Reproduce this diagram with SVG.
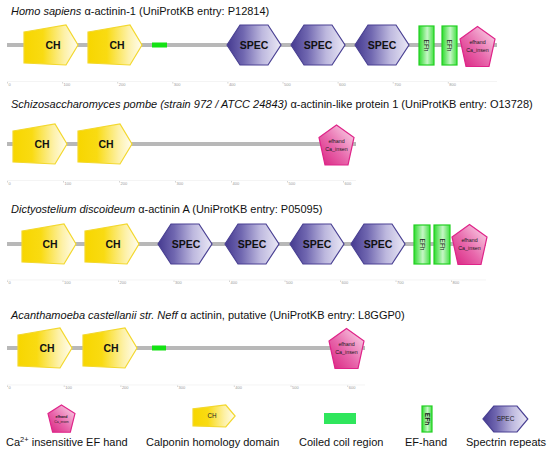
<svg xmlns="http://www.w3.org/2000/svg" xmlns:xlink="http://www.w3.org/1999/xlink" width="550" height="452" viewBox="0 0 550 452">
<style>
.title{font-family:"Liberation Sans",Arial,sans-serif;font-size:11px;fill:#111}
.it{font-style:italic}
.bb{stroke:#b8b8b8;stroke-width:4;fill:none}
.axis{stroke:#ededed;stroke-width:0.6;fill:none}
.tk{stroke:#aaa;stroke-width:0.5}
.tl{font-family:"Liberation Sans",Arial,sans-serif;font-size:4px;fill:#999}
.dl{font-family:"Liberation Sans",Arial,sans-serif;font-weight:bold;font-size:10.5px;fill:#111;text-anchor:middle}
.ef{font-family:"Liberation Sans",Arial,sans-serif;font-size:6.5px;fill:#222;text-anchor:middle}
.ca{font-family:"Liberation Sans",Arial,sans-serif;font-size:5.3px;fill:#1a1a1a;text-anchor:middle}
.coil{fill:#14e214}
.efh{fill:url(#gEF);stroke:#22d022;stroke-width:1.2}
.lg{font-family:"Liberation Sans",Arial,sans-serif;font-size:11px;fill:#111}
</style>
<defs>
<linearGradient id="gCH" x1="0" y1="0" x2="1" y2="0">
<stop offset="0" stop-color="#f7d600"/>
<stop offset="0.35" stop-color="#f9db12"/>
<stop offset="0.75" stop-color="#fdf1a8"/>
<stop offset="1" stop-color="#fffdf0"/>
</linearGradient>
<linearGradient id="gSP" x1="0" y1="0" x2="1" y2="0">
<stop offset="0" stop-color="#453a90"/>
<stop offset="0.3" stop-color="#7067b0"/>
<stop offset="0.65" stop-color="#bdb8de"/>
<stop offset="1" stop-color="#ebe9f6"/>
</linearGradient>
<linearGradient id="gEF" x1="0" y1="0" x2="1" y2="0">
<stop offset="0" stop-color="#2edb2e"/>
<stop offset="0.55" stop-color="#c6f6c6"/>
<stop offset="1" stop-color="#43e043"/>
</linearGradient>
<linearGradient id="gCA" x1="0" y1="1" x2="1" y2="0">
<stop offset="0" stop-color="#d9207f"/>
<stop offset="0.45" stop-color="#e868ac"/>
<stop offset="1" stop-color="#fbe0ee"/>
</linearGradient>
<polygon id="ch" points="0,-13 42,-20 54,0 42,20 0,18" fill="url(#gCH)" stroke="#f3d82e" stroke-width="1.2" vector-effect="non-scaling-stroke"/>
<polygon id="spec" points="0,0 13,-20 41,-20 54,0 41,20 13,20" fill="url(#gSP)" stroke="#4a4193" stroke-width="1.2" vector-effect="non-scaling-stroke"/>
<polygon id="cah" points="17.5,-19.5 35,-7 29,20.5 6,20.5 0,-7" fill="url(#gCA)" stroke="#df2489" stroke-width="1.2" vector-effect="non-scaling-stroke"/>
</defs>

<g id="titles">
<text class="title" x="11" y="15"><tspan class="it">Homo sapiens</tspan> α-actinin-1 (UniProtKB entry: P12814)</text>
<text class="title" x="11" y="108"><tspan class="it">Schizosaccharomyces pombe (strain 972 / ATCC 24843)</tspan> α-actinin-like protein 1 (UniProtKB entry: O13728)</text>
<text class="title" x="11" y="213"><tspan class="it">Dictyostelium discoideum</tspan> α-actinin A (UniProtKB entry: P05095)</text>
<text class="title" x="11" y="319"><tspan class="it">Acanthamoeba castellanii str. Neff</tspan> α actinin, putative (UniProtKB entry: L8GGP0)</text>
</g>

<g id="connectors">
<line class="bb" x1="7" y1="45" x2="497" y2="45"/>
<line class="bb" x1="7" y1="144" x2="356" y2="144"/>
<line class="bb" x1="7" y1="244" x2="486" y2="244"/>
<line class="bb" x1="7" y1="348" x2="365" y2="348"/>
</g>

<g id="axes">
<line class="axis" x1="7" y1="81.5" x2="497" y2="81.5"/>
<g class="tl">
<text x="8.5" y="85.5">0</text><text x="63.6" y="85.5">100</text><text x="118.7" y="85.5">200</text><text x="173.8" y="85.5">300</text><text x="228.9" y="85.5">400</text><text x="284" y="85.5">500</text><text x="339.1" y="85.5">600</text><text x="394.2" y="85.5">700</text><text x="449.3" y="85.5">800</text>
</g>
<g class="tk">
<line x1="7.5" y1="82" x2="7.5" y2="83.5"/><line x1="62.6" y1="82" x2="62.6" y2="83.5"/><line x1="117.7" y1="82" x2="117.7" y2="83.5"/><line x1="172.8" y1="82" x2="172.8" y2="83.5"/><line x1="227.9" y1="82" x2="227.9" y2="83.5"/><line x1="283" y1="82" x2="283" y2="83.5"/><line x1="338.1" y1="82" x2="338.1" y2="83.5"/><line x1="393.2" y1="82" x2="393.2" y2="83.5"/><line x1="448.3" y1="82" x2="448.3" y2="83.5"/>
</g>
<line class="axis" x1="7" y1="180.5" x2="356" y2="180.5"/>
<g class="tl">
<text x="8.5" y="184.5">0</text><text x="64.5" y="184.5">100</text><text x="120.5" y="184.5">200</text><text x="176.5" y="184.5">300</text><text x="232.5" y="184.5">400</text><text x="288.5" y="184.5">500</text><text x="344.5" y="184.5">600</text>
</g>
<g class="tk">
<line x1="7.5" y1="181" x2="7.5" y2="182.5"/><line x1="63.5" y1="181" x2="63.5" y2="182.5"/><line x1="119.5" y1="181" x2="119.5" y2="182.5"/><line x1="175.5" y1="181" x2="175.5" y2="182.5"/><line x1="231.5" y1="181" x2="231.5" y2="182.5"/><line x1="287.5" y1="181" x2="287.5" y2="182.5"/><line x1="343.5" y1="181" x2="343.5" y2="182.5"/>
</g>
<line class="axis" x1="7" y1="280" x2="486" y2="280"/>
<g class="tl">
<text x="8.5" y="284">0</text><text x="64" y="284">100</text><text x="119.5" y="284">200</text><text x="175" y="284">300</text><text x="230.5" y="284">400</text><text x="286" y="284">500</text><text x="341.5" y="284">600</text><text x="397" y="284">700</text><text x="452.5" y="284">800</text>
</g>
<g class="tk">
<line x1="7.5" y1="280.5" x2="7.5" y2="282"/><line x1="63" y1="280.5" x2="63" y2="282"/><line x1="118.5" y1="280.5" x2="118.5" y2="282"/><line x1="174" y1="280.5" x2="174" y2="282"/><line x1="229.5" y1="280.5" x2="229.5" y2="282"/><line x1="285" y1="280.5" x2="285" y2="282"/><line x1="340.5" y1="280.5" x2="340.5" y2="282"/><line x1="396" y1="280.5" x2="396" y2="282"/><line x1="451.5" y1="280.5" x2="451.5" y2="282"/>
</g>
<line class="axis" x1="7" y1="385" x2="365" y2="385"/>
<g class="tl">
<text x="8.5" y="389">0</text><text x="65.2" y="389">100</text><text x="121.9" y="389">200</text><text x="178.6" y="389">300</text><text x="235.3" y="389">400</text><text x="292" y="389">500</text><text x="348.7" y="389">600</text>
</g>
<g class="tk">
<line x1="7.5" y1="385.5" x2="7.5" y2="387"/><line x1="64.2" y1="385.5" x2="64.2" y2="387"/><line x1="120.9" y1="385.5" x2="120.9" y2="387"/><line x1="177.6" y1="385.5" x2="177.6" y2="387"/><line x1="234.3" y1="385.5" x2="234.3" y2="387"/><line x1="291" y1="385.5" x2="291" y2="387"/><line x1="347.7" y1="385.5" x2="347.7" y2="387"/>
</g>
</g>

<!-- Row 1: Homo sapiens -->
<g id="r1-ch1"><use xlink:href="#ch" href="#ch" x="24" y="45"/><text class="dl" x="53" y="49">CH</text></g>
<g id="r1-ch2"><use xlink:href="#ch" href="#ch" x="88" y="45"/><text class="dl" x="117" y="49">CH</text></g>
<g id="r1-coil"><rect class="coil" x="152" y="42.5" width="15" height="5"/></g>
<g id="r1-spec1"><use xlink:href="#spec" href="#spec" x="227" y="45"/><text class="dl" x="254" y="49">SPEC</text></g>
<g id="r1-spec2"><use xlink:href="#spec" href="#spec" x="291" y="45"/><text class="dl" x="318" y="49">SPEC</text></g>
<g id="r1-spec3"><use xlink:href="#spec" href="#spec" x="355" y="45"/><text class="dl" x="382" y="49">SPEC</text></g>
<g id="r1-efh1"><rect class="efh" x="419" y="26" width="15" height="39"/><text class="ef" transform="translate(426.5,45.5) rotate(90)" y="2.3">EFh</text></g>
<g id="r1-efh2"><rect class="efh" x="442" y="26" width="15" height="39"/><text class="ef" transform="translate(449.5,45.5) rotate(90)" y="2.3">EFh</text></g>
<g id="r1-ca"><use xlink:href="#cah" href="#cah" x="460" y="46"/><text class="ca" x="477.5" y="44">efhand</text><text class="ca" x="477.5" y="52">Ca_insen</text></g>

<!-- Row 2: S. pombe -->
<g id="r2-ch1"><use xlink:href="#ch" href="#ch" x="13" y="144"/><text class="dl" x="42" y="148">CH</text></g>
<g id="r2-ch2"><use xlink:href="#ch" href="#ch" x="78" y="144"/><text class="dl" x="106" y="148">CH</text></g>
<g id="r2-ca"><use xlink:href="#cah" href="#cah" x="319" y="144.5"/><text class="ca" x="336.5" y="142.5">efhand</text><text class="ca" x="336.5" y="150.5">Ca_insen</text></g>

<!-- Row 3: Dictyostelium -->
<g id="r3-ch1"><use xlink:href="#ch" href="#ch" x="22" y="244"/><text class="dl" x="50" y="248">CH</text></g>
<g id="r3-ch2"><use xlink:href="#ch" href="#ch" x="85" y="244"/><text class="dl" x="113" y="248">CH</text></g>
<g id="r3-spec1"><use xlink:href="#spec" href="#spec" x="158" y="244"/><text class="dl" x="186" y="248">SPEC</text></g>
<g id="r3-spec2"><use xlink:href="#spec" href="#spec" x="225" y="244"/><text class="dl" x="252" y="248">SPEC</text></g>
<g id="r3-spec3"><use xlink:href="#spec" href="#spec" x="290" y="244"/><text class="dl" x="317" y="248">SPEC</text></g>
<g id="r3-spec4"><use xlink:href="#spec" href="#spec" x="351" y="244"/><text class="dl" x="378" y="248">SPEC</text></g>
<g id="r3-efh1"><rect class="efh" x="414" y="225" width="16" height="39"/><text class="ef" transform="translate(422,244.5) rotate(90)" y="2.3">EFh</text></g>
<g id="r3-efh2"><rect class="efh" x="434" y="225" width="16" height="39"/><text class="ef" transform="translate(442,244.5) rotate(90)" y="2.3">EFh</text></g>
<g id="r3-ca"><use xlink:href="#cah" href="#cah" x="452" y="244"/><text class="ca" x="469.5" y="242">efhand</text><text class="ca" x="469.5" y="250">Ca_insen</text></g>

<!-- Row 4: Acanthamoeba -->
<g id="r4-ch1"><use xlink:href="#ch" href="#ch" x="18" y="348"/><text class="dl" x="47" y="352">CH</text></g>
<g id="r4-ch2"><use xlink:href="#ch" href="#ch" x="83" y="348"/><text class="dl" x="111" y="352">CH</text></g>
<g id="r4-coil"><rect class="coil" x="152" y="345.5" width="14" height="5"/></g>
<g id="r4-ca"><use xlink:href="#cah" href="#cah" x="329" y="348"/><text class="ca" x="346.5" y="346">efhand</text><text class="ca" x="346.5" y="354">Ca_insen</text></g>

<!-- Legend -->
<g id="legend-ca">
<use xlink:href="#cah" href="#cah" transform="translate(48,418.3) scale(0.77,0.68)"/>
<text class="ca" x="61.5" y="418" style="font-size:3.6px;font-weight:bold">efhand</text>
<text class="ca" x="61.5" y="423" style="font-size:3.4px">Ca_insen</text>
<text class="lg" x="6" y="446">Ca<tspan dy="-4" style="font-size:7.5px">2+</tspan><tspan dy="4"> insensitive EF hand</tspan></text>
</g>
<g id="legend-ch">
<use xlink:href="#ch" href="#ch" transform="translate(193,416) scale(0.78,0.55)"/>
<text x="212" y="418.3" style="font-family:'Liberation Sans',Arial,sans-serif;font-size:6.3px;fill:#222;text-anchor:middle">CH</text>
<text class="lg" x="146" y="446">Calponin homology domain</text>
</g>
<g id="legend-coil">
<rect x="324" y="413" width="32" height="11" fill="#2fe65c"/>
<text class="lg" x="299" y="446">Coiled coil region</text>
</g>
<g id="legend-efh">
<rect class="efh" x="422" y="406" width="10" height="26"/>
<text class="ef" transform="translate(427,419) rotate(90)" y="2.2" style="font-size:6.5px;font-weight:bold;fill:#111">EFh</text>
<text class="lg" x="405" y="446">EF-hand</text>
</g>
<g id="legend-spec">
<use xlink:href="#spec" href="#spec" transform="translate(483,419) scale(0.83,0.65)"/>
<text x="505.5" y="421.3" style="font-family:'Liberation Sans',Arial,sans-serif;font-size:6.5px;fill:#222;text-anchor:middle">SPEC</text>
<text class="lg" x="466" y="446">Spectrin repeats</text>
</g>
</svg>
